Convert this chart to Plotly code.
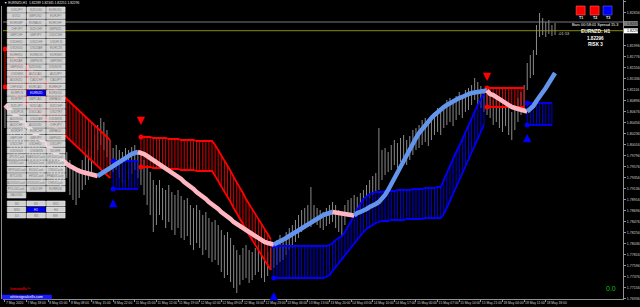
import plotly.graph_objects as go

# ---------------- DATA ----------------
# hourly bars (index 0..178), highs / lows in price
high = [1.8075,1.8055,1.8041,1.8031,1.8021,1.8035,1.8047,1.8031,1.8015,1.8007,
        1.8011,1.8001,1.7991,1.7995,1.8003,1.7991,1.7981,1.7987,1.7975,1.7981,
        1.7987,1.7971,1.7961,1.7951,1.7955,1.7971,1.7981,1.7991,1.8001,1.8021,
        1.8041,1.8055,1.8047,1.8031,1.8011,1.7995,1.8001,1.7991,1.7987,1.7995,
        1.7991,1.7997,1.8001,1.7991,1.7981,1.7971,1.7961,1.7947,1.7931,1.7921,
        1.7931,1.7915,1.7911,1.7921,1.7907,1.7901,1.7911,1.7899,1.7891,1.7895,
        1.7881,1.7875,1.7881,1.7871,1.7861,1.7867,1.7855,1.7847,1.7851,1.7841,
        1.7831,1.7821,1.7827,1.7815,1.7801,1.7791,1.7781,1.7795,1.7801,1.7791,
        1.7787,1.7795,1.7801,1.7791,1.7781,1.7787,1.7795,1.7801,1.7811,1.7821,
        1.7815,1.7827,1.7835,1.7841,1.7851,1.7861,1.7871,1.7875,1.7881,1.7917,
        1.7881,1.7875,1.7871,1.7867,1.7875,1.7881,1.7887,1.7881,1.7871,1.7867,
        1.7881,1.7891,1.7895,1.7901,1.7897,1.7905,1.7911,1.7921,1.7931,1.7939,
        1.7945,1.8035,1.7991,1.7995,1.7987,1.8001,1.8011,1.8005,1.8015,1.8021,
        1.8011,1.8019,1.8031,1.8035,1.8041,1.8051,1.8055,1.8047,1.8061,1.8067,
        1.8075,1.8071,1.8081,1.8091,1.8095,1.8087,1.8099,1.8107,1.8101,1.8111,
        1.8115,1.8121,1.8135,1.8127,1.8119,1.8111,1.8107,1.8101,1.8091,1.8095,
        1.8087,1.8081,1.8091,1.8075,1.8067,1.8081,1.8095,1.8107,1.8121,1.8165,
        1.8181,1.8191,1.8241,1.8265,1.8255,1.8247,1.8251,1.8241,1.8245]
low = [1.8035,1.8001,1.7991,1.7975,1.7971,1.7987,1.7995,1.7981,1.7961,1.7951,
       1.7955,1.7941,1.7931,1.7947,1.7951,1.7935,1.7921,1.7931,1.7911,1.7921,
       1.7935,1.7901,1.7891,1.7881,1.7895,1.7911,1.7921,1.7931,1.7947,1.7971,
       1.7991,1.8001,1.7991,1.7977,1.7961,1.7947,1.7951,1.7935,1.7925,1.7939,
       1.7931,1.7943,1.7951,1.7935,1.7921,1.7901,1.7881,1.7861,1.7827,1.7841,
       1.7861,1.7851,1.7835,1.7847,1.7831,1.7821,1.7835,1.7815,1.7811,1.7819,
       1.7801,1.7791,1.7805,1.7795,1.7781,1.7791,1.7775,1.7767,1.7771,1.7761,
       1.7747,1.7735,1.7741,1.7727,1.7715,1.7705,1.7721,1.7731,1.7735,1.7725,
       1.7731,1.7741,1.7747,1.7735,1.7727,1.7739,1.7751,1.7755,1.7761,1.7767,
       1.7771,1.7781,1.7791,1.7795,1.7807,1.7815,1.7827,1.7835,1.7841,1.7837,
       1.7847,1.7841,1.7835,1.7831,1.7839,1.7843,1.7847,1.7835,1.7827,1.7817,
       1.7841,1.7857,1.7861,1.7865,1.7859,1.7867,1.7875,1.7891,1.7895,1.7901,
       1.7907,1.7911,1.7931,1.7941,1.7947,1.7951,1.7961,1.7955,1.7967,1.7971,
       1.7961,1.7971,1.7981,1.7991,1.7995,1.8001,1.8007,1.7999,1.8011,1.8021,
       1.8027,1.8021,1.8035,1.8041,1.8047,1.8039,1.8051,1.8061,1.8055,1.8067,
       1.8071,1.8081,1.8091,1.8083,1.8075,1.8067,1.8061,1.8055,1.8041,1.8047,
       1.8035,1.8027,1.8039,1.8021,1.8011,1.8031,1.8047,1.8061,1.8071,1.8111,
       1.8135,1.8141,1.8181,1.8217,1.8221,1.8217,1.8223,1.8219,1.8221]
# moving average (pink when falling, blue when rising)
ma = [1.8081,1.8075,1.8069,1.8063,1.8057,1.8051,1.8045,1.8039,1.8033,1.8027,
      1.8021,1.8015,1.8009,1.8003,1.7997,1.7991,1.7985,1.7979,1.7973,1.7967,
      1.7963,1.7959,1.7955,1.7951,1.7949,1.7947,1.7945,1.7943,1.7941,1.7940,
      1.7939,1.7943,1.7947,1.7951,1.7957,1.7961,1.7965,1.7969,1.7973,1.7977,
      1.7981,1.7983,1.7985,1.7987,1.7986,1.7983,1.7979,1.7975,1.7971,1.7967,
      1.7963,1.7959,1.7955,1.7949,1.7945,1.7941,1.7937,1.7933,1.7927,1.7923,
      1.7917,1.7913,1.7907,1.7903,1.7897,1.7893,1.7887,1.7883,1.7877,1.7873,
      1.7867,1.7863,1.7857,1.7853,1.7847,1.7843,1.7837,1.7833,1.7829,1.7825,
      1.7821,1.7817,1.7813,1.7811,1.7807,1.7805,1.7803,1.7802,1.7805,1.7807,
      1.7811,1.7815,1.7819,1.7823,1.7827,1.7831,1.7835,1.7839,1.7843,1.7847,
      1.7851,1.7855,1.7859,1.7861,1.7863,1.7865,1.7867,1.7866,1.7865,1.7864,
      1.7863,1.7862,1.7861,1.7860,1.7865,1.7867,1.7869,1.7873,1.7877,1.7879,
      1.7883,1.7887,1.7893,1.7901,1.7911,1.7923,1.7935,1.7947,1.7957,1.7969,
      1.7981,1.7993,1.8005,1.8015,1.8025,1.8033,1.8041,1.8049,1.8055,1.8061,
      1.8067,1.8073,1.8077,1.8081,1.8085,1.8089,1.8093,1.8095,1.8097,1.8101,
      1.8103,1.8105,1.8106,1.8107,1.8108,1.8109,1.8110,1.8103,1.8101,1.8097,
      1.8093,1.8087,1.8083,1.8079,1.8077,1.8075,1.8073,1.8071,1.8069,1.8068,
      1.8073,1.8079,1.8089,1.8097,1.8107,1.8115,1.8125,1.8135,1.8145]

# signal channels: first bar index, upper and lower edge per bar
red1_start = 0
red1_top = [1.8193,1.8189,1.8183,1.8179,1.8173,1.8169,1.8163,1.8159,1.8153,1.8149,
            1.8143,1.8139,1.8133,1.8129,1.8123,1.8119,1.8113,1.8109,1.8103,1.8099,
            1.8093,1.8087,1.8081,1.8075,1.8069,1.8063,1.8057,1.8051,1.8045,1.8039,
            1.8033,1.8027,1.8021,1.8015,1.8011]
red1_bot = [1.8117,1.8113,1.8107,1.8103,1.8097,1.8093,1.8087,1.8083,1.8077,1.8073,
            1.8067,1.8063,1.8057,1.8053,1.8047,1.8043,1.8037,1.8033,1.8027,1.8023,
            1.8017,1.8011,1.8005,1.7999,1.7993,1.7987,1.7981,1.7975,1.7969,1.7963,
            1.7957,1.7951,1.7945,1.7939,1.7935]
blue1_start = 35
blue1_top = [1.7969,1.7969,1.7969,1.7969,1.7969,1.7969,1.7969,1.7969,1.7969]
blue1_bot = [1.7913,1.7913,1.7913,1.7913,1.7913,1.7913,1.7913,1.7913,1.7913]
red2_start = 44
red2_top = [1.8017,1.8017,1.8017,1.8017,1.8015,1.8015,1.8015,1.8015,1.8015,
            1.8013,1.8013,1.8013,1.8013,1.8011,1.8011,1.8011,1.8011,1.8011,
            1.8009,1.8009,1.8009,1.8009,1.8009,1.8009,
            1.8001,1.7991,1.7981,1.7971,1.7959,1.7949,1.7937,1.7927,1.7915,1.7905,
            1.7893,1.7883,1.7871,1.7861,1.7851,1.7841,1.7831,1.7821,1.7813]
red2_bot = [1.7957,1.7957,1.7957,1.7957,1.7955,1.7955,1.7955,1.7955,1.7955,
            1.7953,1.7953,1.7953,1.7953,1.7951,1.7951,1.7951,1.7951,1.7951,
            1.7949,1.7949,1.7949,1.7949,1.7949,1.7949,
            1.7939,1.7929,1.7919,1.7909,1.7897,1.7887,1.7875,1.7865,1.7853,1.7843,
            1.7831,1.7821,1.7809,1.7799,1.7789,1.7779,1.7769,1.7759,1.7751]
blue2_start = 87
blue2_top = [1.7799,1.7799,1.7799,1.7799,1.7799,1.7799,1.7799,1.7799,1.7799,
             1.7799,1.7799,1.7799,1.7799,1.7799,1.7799,1.7799,1.7799,1.7799,
             1.7801,1.7805,1.7811,1.7815,1.7819,1.7827,1.7837,1.7849,1.7861,
             1.7873,1.7883,1.7893,1.7899,1.7903,1.7905,1.7907,1.7907,1.7907,
             1.7909,1.7909,1.7909,1.7909,1.7911,1.7911,1.7911,1.7911,1.7911,
             1.7913,1.7913,1.7913,1.7913,1.7915,1.7915,1.7915,1.7915,1.7917,1.7917,
             1.7931,1.7945,1.7961,1.7975,1.7987,1.7999,1.8013,1.8027,1.8041,
             1.8055,1.8069,1.8081,1.8093,1.8103]
blue2_bot = [1.7735,1.7735,1.7735,1.7735,1.7735,1.7735,1.7735,1.7735,1.7735,
             1.7735,1.7735,1.7735,1.7735,1.7735,1.7735,1.7735,1.7735,
             1.7737,1.7741,1.7749,1.7757,1.7765,1.7771,1.7779,1.7787,1.7795,
             1.7803,1.7811,1.7819,1.7827,1.7833,1.7837,1.7841,1.7845,1.7847,
             1.7849,1.7849,1.7849,1.7851,1.7851,1.7851,1.7851,1.7851,
             1.7853,1.7853,1.7853,1.7853,1.7853,1.7853,
             1.7855,1.7855,1.7855,1.7855,1.7855,1.7855,
             1.7863,1.7875,1.7889,1.7903,1.7917,1.7931,1.7945,1.7959,1.7973,
             1.7987,1.7999,1.8013,1.8027,1.8041]
red3_start = 156
red3_top = [1.8115,1.8115,1.8115,1.8115,1.8115,1.8115,1.8115,1.8115,1.8115,1.8115,1.8115,1.8115,1.8115]
red3_bot = [1.8077,1.8077,1.8077,1.8077,1.8077,1.8077,1.8077,1.8077,1.8077,1.8077,1.8077,1.8077,1.8077]
blue3_start = 169
blue3_top = [1.8085,1.8085,1.8085,1.8085,1.8085,1.8085,1.8085,1.8085,1.8085]
blue3_bot = [1.8041,1.8041,1.8041,1.8041,1.8041,1.8041,1.8041,1.8041,1.8041]

# arrow tips
sell_bars = [44, 156]
sell_prices = [1.8041, 1.8129]
buy_bars = [35, 87, 169]
buy_prices = [1.7893, 1.7707, 1.8023]

bid_price = 1.82296
high_line_price = 1.8247

x_tick_bars = [0,7,14,21,28,35,42,49,56,63,70,77,84,91,98,105,112,119,126,133,140,147,154,161,168,175]
x_labels = ["7 May 2020","7 May 18:00","8 May 01:00","8 May 08:00","8 May 15:00","8 May 22:00",
            "11 May 05:00","11 May 12:00","11 May 19:00","12 May 02:00","12 May 09:00","12 May 16:00",
            "12 May 23:00","13 May 06:00","13 May 13:00","13 May 20:00","14 May 03:00","14 May 10:00",
            "14 May 17:00","15 May 00:00","15 May 07:00","15 May 14:00","15 May 21:00","18 May 04:00",
            "18 May 11:00","18 May 18:00"]
y_tick_vals = [1.82876,1.82656,1.81996,1.81776,1.81556,1.81336,1.81116,1.80896,
               1.80676,1.80456,1.80236,1.80016,1.79796,1.79576,1.79356,1.79136,1.78916,1.78696,
               1.78476,1.78256,1.78036,1.77816,1.77596,1.77376,1.77156,1.76936]
y_tick_text = ["1.82876","1.82656","1.81996","1.81776","1.81556","1.81336","1.81116","1.80896",
               "1.80676","1.80456","1.80236","1.80016","1.79796","1.79576","1.79356","1.79136","1.78916","1.78696",
               "1.78476","1.78256","1.78036","1.77816","1.77596","1.77376","1.77156","1.76936"]

symbol_rows = [
    ["USDJPY","NZDUSD","EURUSD"],["GOLD","GBPUSD","EURJPY"],["EURGBP","EURAUD","EURCHF"],
    ["CHFJPY","NZDCHF","GBPNZD"],["GBPCHF","GBPJPY","USDCNH"],["USDHKD","USDCHF","USDPLN"],
    ["USDSGD","USDZAR","EURCZK"],["EURHKD","EURNOK","EURSEK"],["EURZAR","GBPNOK","GBPSEK"],
    ["GBPSGD","NZDSGD","USDNOK"],["USDSEK","AUDCAD","AUDJPY"],["AUDNZD","CADCHF","CADJPY"],
    ["CHFSGD","EURCAD","EURHUF"],["EURPLN","EURNZD","EURSGD"],["EURTRY","GBPCAD","GBPAUD"],
    ["NZDJPY","NZDCAD","NZDCHF"],["USDPLN","USDCAD","USDTRY"],["AUDSGD","USDZAR","USDMXN"],
    ["AUDCHF","AUDUSD","CHFJPY"],["EURJPY","EURCHF","GBPAUD"],["GBPCHF","GBPJPY","GBPNZD"],
    ["USDCHF","USDHKD","USDJPY"],["USDSGD","USDMXN","SILVER"],["JP225Cash","NAS100Cash","UK100Cash"],
    ["US30Cash","US500Cash","GER30Cash"],["SPX500Cash","EU50Cash","CN50Cash"],
    ["BTCUSD","HK50Cash","FRA40Cash"],["AUS200Cash","US2000Cash","CH20Cash"],
    ["POL20Cash","USDCHF","EURRUB"],["XAUUSD"]]
tf_rows = [["M1","M5","M15"],["M30","H1","H4"],["D1","W1","MN"]]
current_symbol = "EURNZD"
current_tf = "H1"

# ---------------- FIGURE ----------------
W, H = 640, 307
ML, MR, MT, MB = 3, 15, 0, 8
PW, PH = W - ML - MR, H - MT - MB
FONT = "Liberation Sans"


def fx(xp):
    return (xp - ML) / PW


def fy(yp):
    return 1 - (yp - MT) / PH


fig = go.Figure()

# price bars (high-low)
bx, by = [], []
for i, (h, l) in enumerate(zip(high, low)):
    bx += [i, i, None]
    by += [l, h, None]
fig.add_trace(go.Scatter(x=bx, y=by, mode="lines", line=dict(color="#8a8a8a", width=1), hoverinfo="skip"))


def draw_band(start, top, bot, line_color, hatch_color):
    xs = list(range(start, start + len(top)))
    hx, hy = [], []
    for x, t, b in zip(xs, top, bot):
        hx += [x, x, None]
        hy += [b, t, None]
    fig.add_trace(go.Scatter(x=hx, y=hy, mode="lines", line=dict(color=hatch_color, width=1), hoverinfo="skip"))
    fig.add_trace(go.Scatter(x=xs, y=top, mode="lines", line=dict(color=line_color, width=1.8), hoverinfo="skip"))
    fig.add_trace(go.Scatter(x=xs, y=bot, mode="lines", line=dict(color=line_color, width=1.8), hoverinfo="skip"))
    fig.add_trace(go.Scatter(x=[start, start], y=[top[0], bot[0]], mode="markers",
                             marker=dict(color=line_color, size=5, symbol="circle"), hoverinfo="skip"))


RED, RED_H = "#ff0000", "#d80000"
BLUE, BLUE_H = "#0000ff", "#0000d8"
draw_band(red1_start, red1_top, red1_bot, RED, RED_H)
draw_band(blue1_start, blue1_top, blue1_bot, BLUE, BLUE_H)
draw_band(red2_start, red2_top, red2_bot, RED, RED_H)
draw_band(blue2_start, blue2_top, blue2_bot, BLUE, BLUE_H)
draw_band(red3_start, red3_top, red3_bot, RED, RED_H)
draw_band(blue3_start, blue3_top, blue3_bot, BLUE, BLUE_H)

# moving average coloured by direction
trend = []
for i, v in enumerate(ma):
    if i == 0:
        trend.append(-1)
    elif v > ma[i - 1]:
        trend.append(1)
    elif v < ma[i - 1]:
        trend.append(-1)
    else:
        trend.append(trend[-1])
groups = []
for i in range(1, len(ma)):
    if groups and groups[-1][0] == trend[i]:
        groups[-1][2] = i
    else:
        groups.append([trend[i], i - 1, i])
for t, a, b in groups:
    fig.add_trace(go.Scatter(x=list(range(a, b + 1)), y=ma[a:b + 1], mode="lines",
                             line=dict(color="#6495ed" if t > 0 else "#ffb6c1", width=4.5),
                             hoverinfo="skip"))

shapes = []
ann = []

# signal arrows (annotation arrows pointing at the tip price)
for xb, p in zip(sell_bars, sell_prices):
    ann.append(dict(x=xb, y=p, xref="x", yref="y", text="", showarrow=True, ax=0, ay=-8,
                    arrowhead=2, arrowsize=0.75, arrowwidth=2.2, arrowcolor=RED))
for xb, p in zip(buy_bars, buy_prices):
    ann.append(dict(x=xb, y=p, xref="x", yref="y", text="", showarrow=True, ax=0, ay=8,
                    arrowhead=2, arrowsize=0.75, arrowwidth=2.2, arrowcolor=BLUE))

# horizontal price lines
shapes.append(dict(type="line", xref="paper", yref="y", x0=0, x1=1, y0=high_line_price, y1=high_line_price,
                   line=dict(color="#7a7a7a", width=1), layer="below"))
shapes.append(dict(type="line", xref="paper", yref="y", x0=0, x1=1, y0=bid_price, y1=bid_price,
                   line=dict(color="#8c8c00", width=1), layer="below"))
# left frame line
shapes.append(dict(type="line", xref="paper", yref="paper", x0=fx(1.5), x1=fx(1.5), y0=0, y1=fy(6),
                   line=dict(color="#8a8a8a", width=1)))

# symbol panel
col_x = [7.3, 27.0, 46.7]
cell_w, row_h, pitch, top0 = 18.6, 5.4, 6.4, 7.0


def cell(x0, y0, w, h, label, sel):
    shapes.append(dict(type="rect", xref="paper", yref="paper", x0=fx(x0), x1=fx(x0 + w),
                       y0=fy(y0 + h), y1=fy(y0), fillcolor="#0000ff" if sel else "#d2d2d2",
                       line=dict(color="#000080" if sel else "#efefef", width=0.6), layer="above"))
    ann.append(dict(text=label, x=fx(x0 + w / 2), y=fy(y0 + h / 2), xref="paper", yref="paper",
                    showarrow=False, xanchor="center", yanchor="middle", borderpad=0,
                    font=dict(size=3, color="#e8e0ff" if sel else "#787878", family=FONT)))


for r, row in enumerate(symbol_rows):
    for c, name in enumerate(row):
        cell(col_x[c], top0 + r * pitch, cell_w, row_h, name, name == current_symbol and r == 13)
for r, row in enumerate(tf_rows):
    for c, name in enumerate(row):
        cell(col_x[c], 201.0 + r * 6.0, cell_w, 5.0, name, name == current_tf)

# title
ann.append(dict(text="\u25bc EURNZD,H1  1.82289 1.82345 1.82251 1.82296", x=fx(2), y=fy(3.5), xref="paper",
                yref="paper", showarrow=False, xanchor="left", yanchor="middle",
                font=dict(size=3.3, color="#e6e6e6", family=FONT)))

# top-right info block
for x0, col, lab in [(578, "#ff0000", "T1"), (592, "#ff0000", "T2"), (605, "#0000ff", "T3")]:
    shapes.append(dict(type="rect", xref="paper", yref="paper", x0=fx(x0), x1=fx(x0 + 9), y0=fy(15), y1=fy(6),
                       fillcolor=col, line=dict(color="#ff6060" if col == "#ff0000" else "#6060ff", width=0.6)))
    ann.append(dict(text="<b>" + lab + "</b>", x=fx(x0 + 4.5), y=fy(18), xref="paper", yref="paper",
                    showarrow=False, xanchor="center", yanchor="middle",
                    font=dict(size=3.6, color="#ffffff", family=FONT)))
for txt, yy, sz in [("Bars 00:58:01 Spread 15.3", 24.5, 3.9), ("<b>EURNZD: H1</b>", 31.2, 4.8),
                    ("<b>1.82296</b>", 38.0, 4.6), ("<b>RISK 3</b>", 44.5, 4.6)]:
    ann.append(dict(text=txt, x=fx(597), y=fy(yy), xref="paper", yref="paper", showarrow=False,
                    xanchor="center", yanchor="middle", font=dict(size=sz, color="#ffffff", family=FONT)))
ann.append(dict(text="-01:53", x=fx(558), y=fy(33), xref="paper", yref="paper", showarrow=False,
                xanchor="left", yanchor="middle", font=dict(size=4, color="#c8c8c8", family=FONT)))

# right axis price boxes
shapes.append(dict(type="rect", xref="paper", yref="paper", x0=fx(626), x1=fx(640), y0=fy(26), y1=fy(21),
                   fillcolor="#7a7a7a", line=dict(width=0)))
ann.append(dict(text="1.82470", x=fx(627), y=fy(23.5), xref="paper", yref="paper", showarrow=False,
                xanchor="left", yanchor="middle", font=dict(size=3.6, color="#202020", family=FONT)))
shapes.append(dict(type="rect", xref="paper", yref="paper", x0=fx(626), x1=fx(640), y0=fy(33.3), y1=fy(28.3),
                   fillcolor="#ffffff", line=dict(width=0)))
ann.append(dict(text="1.82296", x=fx(627), y=fy(30.8), xref="paper", yref="paper", showarrow=False,
                xanchor="left", yanchor="middle", font=dict(size=3.6, color="#000000", family=FONT)))

# green 0.0
ann.append(dict(text="0.0", x=fx(613), y=fy(288), xref="paper", yref="paper", showarrow=False,
                xanchor="center", yanchor="middle", font=dict(size=7, color="#00c000", family=FONT)))

# bottom-left texts
ann.append(dict(text="<b>forexcells\u2122</b>", x=fx(8), y=fy(288.5), xref="paper", yref="paper", showarrow=False,
                xanchor="left", yanchor="middle", font=dict(size=3.6, color="#e00000", family=FONT)))
shapes.append(dict(type="rect", xref="paper", yref="paper", x0=fx(2), x1=fx(52), y0=fy(299.3), y1=fy(294.7),
                   fillcolor="#1a1aff", line=dict(width=0)))
ann.append(dict(text="whitesignalcells.com", x=fx(27), y=fy(297), xref="paper", yref="paper", showarrow=False,
                xanchor="center", yanchor="middle", font=dict(size=3.6, color="#ffffff", family=FONT)))

fig.update_layout(
    width=W, height=H, margin=dict(l=ML, r=MR, t=MT, b=MB, pad=0),
    paper_bgcolor="#000000", plot_bgcolor="#000000", showlegend=False,
    shapes=shapes, annotations=ann,
    xaxis=dict(range=[-0.645, 200.0], showgrid=False, zeroline=False, tickmode="array",
               tickvals=x_tick_bars, ticktext=x_labels, tickangle=0, ticklabelposition="outside right",
               tickfont=dict(size=3.3, color="#d0d0d0", family=FONT), ticks="outside", ticklen=2,
               tickcolor="#909090", showline=True, linecolor="#909090", linewidth=1, fixedrange=True),
    yaxis=dict(range=[1.7693, 1.8291], side="right", showgrid=False, zeroline=False, tickmode="array",
               tickvals=y_tick_vals, ticktext=y_tick_text, tickfont=dict(size=3.6, color="#d0d0d0", family=FONT),
               ticks="outside", ticklen=2, tickcolor="#909090", showline=True, linecolor="#909090",
               linewidth=1, fixedrange=True),
)

fig.write_html("out.html")
